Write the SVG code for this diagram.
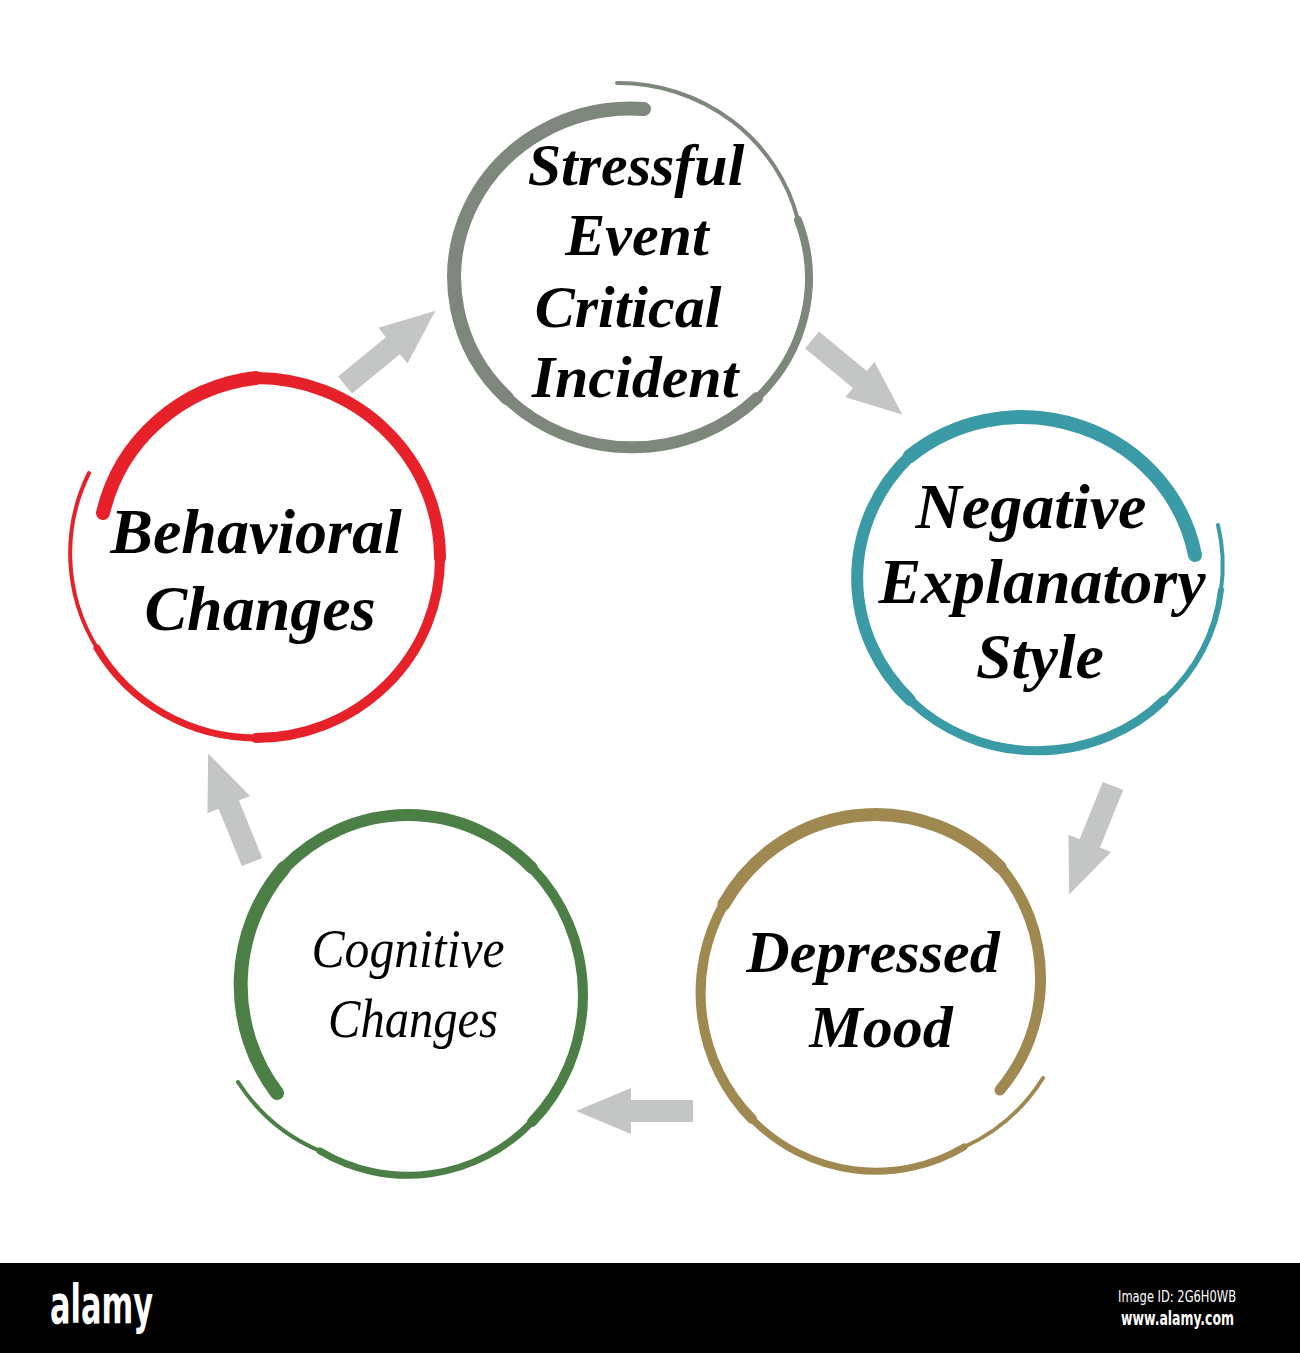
<svg xmlns="http://www.w3.org/2000/svg" xmlns:xlink="http://www.w3.org/1999/xlink" width="1300" height="1353" viewBox="0 0 1300 1353">
<style>
.ring{fill:none;stroke-linecap:round;stroke-linejoin:round}
.gray{stroke:#7e877c}
.teal{stroke:#3a9aa6}
.gold{stroke:#a08951}
.green{stroke:#4c7f46}
.red{stroke:#e6212a}
.lbl{font-family:"Liberation Serif","Times New Roman",serif;font-style:italic;font-weight:bold;fill:#000;text-anchor:middle}
.lbl2{font-family:"Liberation Serif","Times New Roman",serif;font-style:italic;font-weight:normal;fill:#000;text-anchor:middle}
.arrow{fill:#c4c6c6}
.foot{fill:#fff;font-family:"DejaVu Sans Condensed","DejaVu Sans","Liberation Sans",sans-serif}
</style>
<defs>
<path id="blockArrow" d="M0,-11 H62 V-23 L117,0 L62,23 V11 H0 Z"/>
</defs>
<rect x="0" y="0" width="1300" height="1263" fill="#fff"/>

<g id="connectors">
<use xlink:href="#blockArrow" href="#blockArrow" class="arrow" transform="translate(345,385) rotate(-39.4)"/>
<use xlink:href="#blockArrow" href="#blockArrow" class="arrow" transform="translate(812,340) rotate(39.5)"/>
<use xlink:href="#blockArrow" href="#blockArrow" class="arrow" transform="translate(1113,786) rotate(112)"/>
<use xlink:href="#blockArrow" href="#blockArrow" class="arrow" transform="translate(693,1111) rotate(180)"/>
<use xlink:href="#blockArrow" href="#blockArrow" class="arrow" transform="translate(252,862) rotate(-112)"/>
</g>

<g id="node-stressful-event">
<path class="ring gray" stroke-width="14" d="M644,109 A177,169 0 0 0 507,398"/>
<path class="ring gray" stroke-width="12" d="M507,398 A177,169 0 0 0 757,398"/>
<path class="ring gray" stroke-width="8" d="M757,398 A177,169 0 0 0 798,220"/>
<path class="ring gray" stroke-width="4" d="M798,220 A185,180 0 0 0 617,83"/>
<text class="lbl" font-size="60" x="636" y="185">Stressful</text>
<text class="lbl" font-size="60" x="637" y="255">Event</text>
<text class="lbl" font-size="60" x="628" y="327">Critical</text>
<text class="lbl" font-size="60" x="635" y="397">Incident</text>
</g>

<g id="node-negative-explanatory-style">
<path class="ring teal" stroke-width="14" d="M1195,555 A176,170 0 0 0 910,456"/>
<path class="ring teal" stroke-width="12" d="M910,456 A179,172 0 0 0 910,700"/>
<path class="ring teal" stroke-width="9" d="M910,700 A179,172 0 0 0 1164,700"/>
<path class="ring teal" stroke-width="6" d="M1164,700 A182,176 0 0 0 1221,590"/>
<path class="ring teal" stroke-width="4" d="M1221,590 A186,180 0 0 0 1218,525"/>
<text class="lbl" font-size="64" x="1031" y="528">Negative</text>
<text class="lbl" font-size="64" x="1042" y="603">Explanatory</text>
<text class="lbl" font-size="64" x="1040" y="678">Style</text>
</g>

<g id="node-depressed-mood">
<path class="ring gold" stroke-width="11" d="M1000,1090 A170,172 0 0 0 1000,867"/>
<path class="ring gold" stroke-width="13" d="M1000,867 A175,178 0 0 0 724,904"/>
<path class="ring gold" stroke-width="10" d="M724,904 A175,178 0 0 0 752,1119"/>
<path class="ring gold" stroke-width="7" d="M752,1119 A175,178 0 0 0 964,1147"/>
<path class="ring gold" stroke-width="4" d="M964,1147 A180,182 0 0 0 1043,1078"/>
<text class="lbl" font-size="60" x="873" y="972">Depressed</text>
<text class="lbl" font-size="60" x="881" y="1047">Mood</text>
</g>

<g id="node-cognitive-changes">
<path class="ring green" stroke-width="14" d="M277,1093 A172,176 0 0 1 284,868"/>
<path class="ring green" stroke-width="12" d="M284,868 A175,180 0 0 1 532,868"/>
<path class="ring green" stroke-width="10" d="M532,868 A175,180 0 0 1 532,1122"/>
<path class="ring green" stroke-width="7" d="M532,1122 A175,180 0 0 1 320,1151"/>
<path class="ring green" stroke-width="4" d="M320,1151 A180,184 0 0 1 238,1082"/>
<text class="lbl2" font-size="54" x="408" y="967" textLength="193" lengthAdjust="spacingAndGlyphs">Cognitive</text>
<text class="lbl2" font-size="54" x="413" y="1037" textLength="170" lengthAdjust="spacingAndGlyphs">Changes</text>
</g>

<g id="node-behavioral-changes">
<path class="ring red" stroke-width="14" d="M103,513 A178,176 0 0 1 256,378"/>
<path class="ring red" stroke-width="12" d="M256,378 A184,180 0 0 1 440,558"/>
<path class="ring red" stroke-width="10" d="M440,558 A184,180 0 0 1 256,738"/>
<path class="ring red" stroke-width="7" d="M256,738 A184,180 0 0 1 97,648"/>
<path class="ring red" stroke-width="4" d="M97,648 A188,184 0 0 1 89,473"/>
<text class="lbl" font-size="64" x="256" y="553">Behavioral</text>
<text class="lbl" font-size="64" x="260" y="630">Changes</text>
</g>

<g id="footer">
<rect x="0" y="1263" width="1300" height="90" fill="#000"/>
<text class="foot" x="50" y="1323" font-size="54" font-weight="bold" textLength="103" lengthAdjust="spacingAndGlyphs">alamy</text>
<text class="foot" x="1118" y="1302" font-size="16" textLength="118" lengthAdjust="spacingAndGlyphs">Image ID: 2G6H0WB</text>
<text class="foot" x="1121" y="1325" font-size="19" font-weight="bold" textLength="113" lengthAdjust="spacingAndGlyphs">www.alamy.com</text>
</g>
</svg>
